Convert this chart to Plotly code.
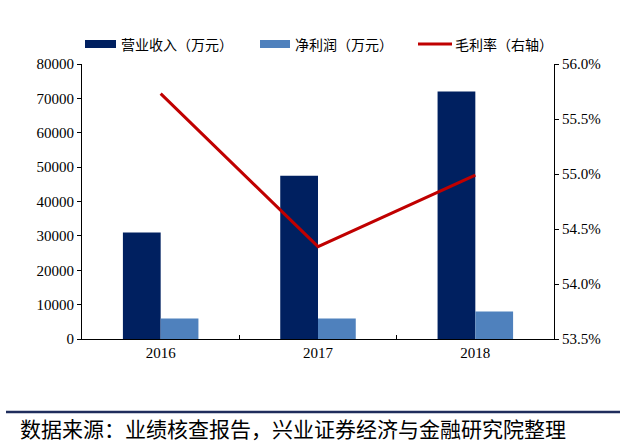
import plotly.graph_objects as go

years = ["2016", "2017", "2018"]
revenue = [31000, 47500, 72000]
net_profit = [6000, 6000, 8000]
gross_margin = [55.73, 54.34, 54.99]

names = ["营业收入（万元）", "净利润（万元）", "毛利率（右轴）"]
c_dark = "#002060"
c_light = "#4F81BD"
c_red = "#C00000"

W, H = 620, 443
L, R, T, B = 82, 554, 64, 339

def px(x):
    return (x - L) / (R - L)

def py(y):
    return (B - y) / (B - T)

fig = go.Figure()
fig.add_trace(go.Bar(x=years, y=revenue, name=names[0], marker=dict(color=c_dark, line=dict(width=0))))
fig.add_trace(go.Bar(x=years, y=net_profit, name=names[1], marker=dict(color=c_light, line=dict(width=0))))
fig.add_trace(go.Scatter(x=years, y=gross_margin, name=names[2], yaxis="y2", mode="lines",
                         line=dict(color=c_red, width=3)))

serif = "Liberation Serif, Times New Roman, serif"
cjk = "Noto Sans CJK SC"

fig.update_layout(
    width=W, height=H,
    margin=dict(l=L, r=W - R, t=T, b=H - B),
    paper_bgcolor="white", plot_bgcolor="white",
    barmode="group", bargap=0.52, bargroupgap=0,
    showlegend=False,
    font=dict(family=serif, size=15, color="black"),
    xaxis=dict(type="category", showline=True, linecolor="black", linewidth=1,
               ticks="inside", tickson="boundaries", ticklen=4, tickcolor="black",
               showgrid=False, tickfont=dict(family=serif, size=15)),
    yaxis=dict(range=[0, 80000], dtick=10000, showline=True, linecolor="black", linewidth=1,
               ticks="outside", ticklen=4, tickcolor="black", showgrid=False, zeroline=False,
               tickformat="d", tickfont=dict(family=serif, size=15)),
    yaxis2=dict(range=[53.5, 56.0], dtick=0.5, overlaying="y", side="right", showline=True,
                linecolor="black", linewidth=1, ticks="outside", ticklen=4, tickcolor="black",
                showgrid=False, zeroline=False, tickformat=".1f", ticksuffix="%",
                tickfont=dict(family=serif, size=15)),
)

# manual legend
shapes = []
annos = []
leg_y = 44
items = [(85, 116, c_dark, "bar", names[0], 119),
         (260, 290, c_light, "bar", names[1], 293),
         (418, 452, c_red, "line", names[2], 453)]
for x0, x1, col, kind, txt, tx in items:
    if kind == "bar":
        shapes.append(dict(type="rect", xref="paper", yref="paper", x0=px(x0), x1=px(x1),
                           y0=py(leg_y + 4), y1=py(leg_y - 4), fillcolor=col, line=dict(width=0)))
    else:
        shapes.append(dict(type="line", xref="paper", yref="paper", x0=px(x0), x1=px(x1),
                           y0=py(leg_y), y1=py(leg_y), line=dict(color=col, width=3)))
    annos.append(dict(text=txt, xref="paper", yref="paper", x=px(tx), y=py(leg_y),
                      xanchor="left", yanchor="middle", showarrow=False,
                      font=dict(family=cjk, size=14, color="black")))

# source line and text
shapes.append(dict(type="line", xref="paper", yref="paper", x0=px(6), x1=px(620),
                   y0=py(412), y1=py(412), line=dict(color="#1F2D5C", width=2.5)))
annos.append(dict(text="数据来源：业绩核查报告，兴业证券经济与金融研究院整理", xref="paper", yref="paper",
                  x=px(18), y=py(428), xanchor="left", yanchor="middle", showarrow=False,
                  font=dict(family=cjk, size=21, color="black")))

fig.update_layout(shapes=shapes, annotations=annos)
fig.write_html("out.html")
